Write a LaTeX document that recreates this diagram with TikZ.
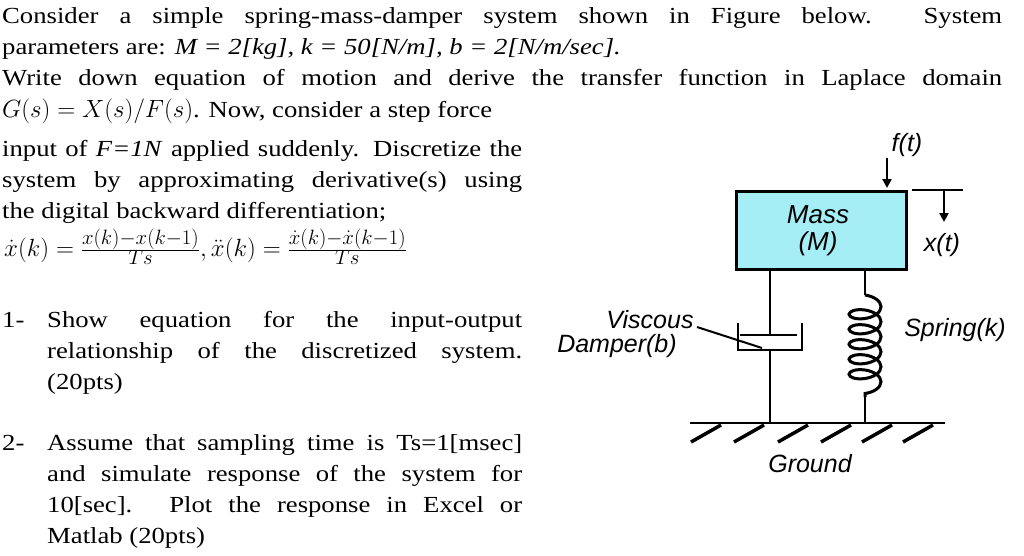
\documentclass[tikz,border=0pt]{standalone}
\usepackage{fontspec}
\setmainfont[FakeStretch=1.16]{Liberation Serif}
\newfontfamily\dfont{Liberation Sans}
\usetikzlibrary{decorations.pathmorphing,arrows.meta}
\begin{document}
\begin{tikzpicture}[x=1pt,y=-1pt,
  jl/.style={anchor=base west,inner sep=0,text width=#1,align=justify,font=\fontsize{23}{26}\selectfont},
  pl/.style={anchor=base west,inner sep=0,font=\fontsize{23}{26}\selectfont},
  dl/.style={inner sep=0,font=\dfont\itshape\fontsize{25}{26}\selectfont},
  thk/.style={line width=2.6pt},
  arr/.style={line width=2.6pt,-{Triangle[length=9pt,width=9pt]}}]
\useasboundingbox (0,0) rectangle (1024,555);
% text
\node[jl=1000] (l1) at (2,23) {\parfillskip=0pt Consider a simple spring-mass-damper system shown in Figure below. System\par};
\node[pl] (l2) at (2,54) {parameters are: \textit{M = 2[kg], k = 50[N/m], b = 2[N/m/sec].}};
\node[jl=1000] (l3) at (2,85) {\parfillskip=0pt Write down equation of motion and derive the transfer function in Laplace domain\par};
\node[pl] (l4) at (2,117) {$G(s)=X(s)/F(s)$. Now, consider a step force};
\node[jl=520] (l5) at (2,156) {\parfillskip=0pt input of \textit{F=1N} applied suddenly. Discretize the\par};
\node[jl=520] (l6) at (2,187) {\parfillskip=0pt system by approximating derivative(s) using\par};
\node[pl] (l7) at (2,218) {the digital backward differentiation;};
\node[anchor=base west,inner sep=0,font=\fontsize{28}{30}\selectfont] (l8) at (4,256) {$\dot x(k)=\frac{x(k)-x(k-1)}{Ts},\ddot x(k)=\frac{\dot x(k)-\dot x(k-1)}{Ts}$};
\node[pl] (a1) at (2,327) {1-};
\node[jl=475] (a2) at (47,327) {\parfillskip=0pt Show equation for the input-output\par};
\node[jl=475] (a3) at (47,358) {\parfillskip=0pt relationship of the discretized system.\par};
\node[pl] (a4) at (47,389) {(20pts)};
\node[pl] (b1) at (2,450) {2-};
\node[jl=475] (b2) at (47,450) {\parfillskip=0pt Assume that sampling time is Ts=1[msec]\par};
\node[jl=475] (b3) at (47,481) {\parfillskip=0pt and simulate response of the system for\par};
\node[jl=475] (b4) at (47,512) {\parfillskip=0pt 10[sec]. Plot the response in Excel or\par};
\node[pl] (b5) at (47,543) {Matlab (20pts)};
% diagram
\node[draw,thk,fill={rgb,255:red,165;green,238;blue,245},minimum width=170pt,minimum height=78pt,inner sep=0,anchor=north west] (mass) at (735,190) {};
\node[dl,font=\dfont\itshape\fontsize{26}{28}\selectfont] (mt) at (818,215) {Mass};
\node[dl,font=\dfont\itshape\fontsize{26}{28}\selectfont] (mm) at (818,244) {(M)};
\node[dl] (ft) at (907,145) {f(t)};
\coordinate (fa) at (887,158);
\draw[arr] (fa) -- (887,188);
\coordinate (xl1) at (912,190); \coordinate (xl2) at (963,190);
\draw[thk] (xl1) -- (xl2);
\draw[arr] (944,190) -- (944,222);
\node[dl] (xt) at (942,245) {x(t)};
% damper
\draw[thk] (770,268) -- (770,335);
\draw[thk] (740,335) -- (797,335);
\draw[thk] (738,323) -- (738,350) -- (802,350) -- (802,323);
\draw[thk] (770,350) -- (770,423);
\node[dl] (vis) at (650,320) {Viscous};
\node[dl] (dam) at (617,346) {Damper(b)};
\draw[line width=2pt] (697,327) -- (762,348);
% spring
\draw[thk] (865,268) -- (865,295);
\draw[line width=3pt,decorate,decoration={coil,aspect=0.5,amplitude=16pt,segment length=15pt}] (865,295) -- (865,397);
\draw[thk] (865,397) -- (865,423);
\node[dl] (spr) at (955,330) {Spring(k)};
% ground
\draw[thk] (690,423) -- (945,423);
\foreach \x in {691,734,778,821,862,903} \draw[line width=3.5pt] (\x,442) -- (\x+30,425);
\node[dl] (gr) at (810,464) {Ground};
\end{tikzpicture}
\end{document}
